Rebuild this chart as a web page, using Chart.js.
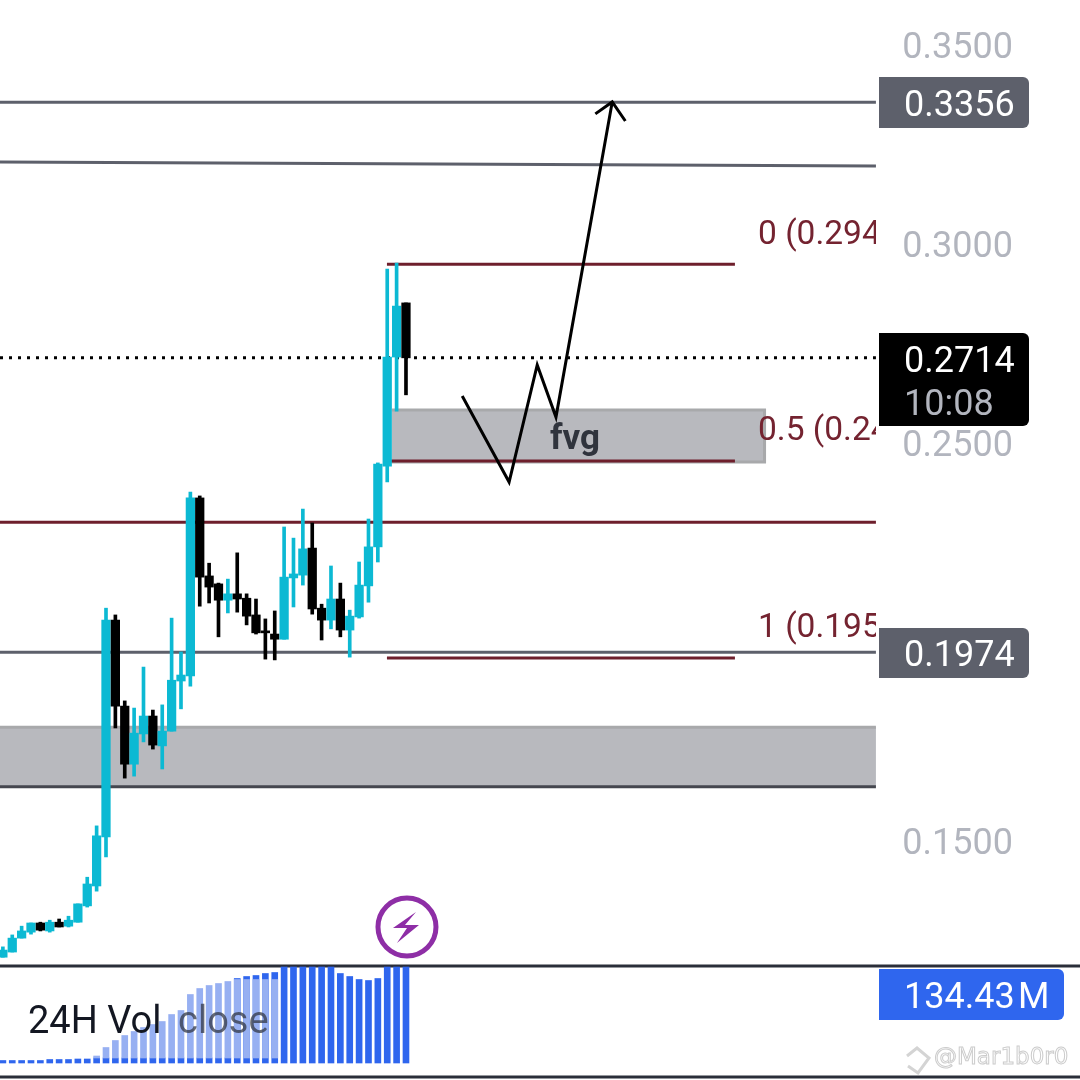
<!DOCTYPE html>
<html>
<head>
<meta charset="utf-8">
<title>24H Vol chart</title>
<script src="https://cdn.jsdelivr.net/npm/chart.js@4"></script>
<style>
  html, body { margin: 0; padding: 0; background: #fff; }
  canvas { display: block; }
</style>
</head>
<body>
<canvas id="chart" width="1080" height="1080"></canvas>
<script>
// candles, oldest first
const opens = [0.1208,0.1221,0.1256,0.1271,0.1294,0.1274,0.1296,0.1286,0.1296,0.1337,0.1387,0.1510,0.2055,0.1839,0.1693,0.1769,0.1814,0.1739,0.1776,0.1902,0.1915,0.2362,0.2166,0.2146,0.2105,0.2121,0.2110,0.2068,0.2028,0.2020,0.2007,0.2161,0.2168,0.2236,0.2085,0.2055,0.2108,0.2030,0.2063,0.2141,0.2239,0.2442,0.2716,0.2852];
const highs = [0.1234,0.1264,0.1286,0.1294,0.1296,0.1301,0.1304,0.1311,0.1342,0.1409,0.1538,0.2085,0.2068,0.1852,0.1834,0.1937,0.1829,0.1842,0.2060,0.1975,0.2377,0.2367,0.2198,0.2148,0.2158,0.2224,0.2121,0.2108,0.2058,0.2078,0.2289,0.2261,0.2334,0.2299,0.2095,0.2191,0.2148,0.2080,0.2201,0.2309,0.2450,0.2937,0.2952,0.2852];
const lows = [0.1208,0.1221,0.1256,0.1266,0.1274,0.1271,0.1284,0.1284,0.1296,0.1334,0.1374,0.1460,0.1784,0.1658,0.1663,0.1749,0.1731,0.1681,0.1776,0.1832,0.1889,0.2090,0.2098,0.2013,0.2073,0.2075,0.2043,0.2020,0.1957,0.1955,0.2007,0.2088,0.2143,0.2070,0.2005,0.2033,0.2013,0.1962,0.2060,0.2100,0.2201,0.2402,0.2580,0.2621];
const closes = [0.1226,0.1256,0.1274,0.1294,0.1276,0.1296,0.1284,0.1301,0.1342,0.1392,0.1513,0.2055,0.1839,0.1693,0.1771,0.1814,0.1741,0.1776,0.1904,0.1917,0.2362,0.2163,0.2138,0.2105,0.2121,0.2108,0.2065,0.2023,0.2023,0.2007,0.2163,0.2171,0.2234,0.2083,0.2055,0.2108,0.2030,0.2065,0.2143,0.2239,0.2447,0.2716,0.2844,0.2714];

// volume in millions, the tall ones run off the top of the pane
const volumes = [5,5,5,5,5,7,7,7,8,8,10,10,10,10,10,10,10,10,10,10,10,10,10,10,10,169,173,175,179,181,192,192,192,192,192,192,179,173,167,165,169,192,192,192];
const volumesFaded = [null,null,null,null,null,null,null,null,null,null,14,31,45,55,63,71,77,83,97,105,137,149,155,159,163,167,167,167,167,167,null,null,null,null,null,null,null,null,null,null,null,null,null,null];
const volFloor = 10;

const priceTicks = [0.35, 0.30, 0.25, 0.15];
const lastPrice = 0.2714;
const resistance = 0.3356;
const support = 0.1974;
const midLine = 0.2301;
const slantLine = [0.3206, 0.3196];
const fibLevels = [['0 (0.2948)', 0.2949], ['0.5 (0.2454)', 0.2455], ['1 (0.1959)', 0.1960]];
const lowerZone = [0.1786, 0.1636];
const fvgZone = [0.2583, 0.2452];

// hand drawn path, x in candle index
const pathX = [49.0, 54.0, 57.0, 59.0, 65.0];
const pathY = [0.2618, 0.2402, 0.2696, 0.2565, 0.3357];
const headX = [63.2, 65.0, 66.4];
const headY = [0.3327, 0.3357, 0.3309];

const CYAN = '#0cb9d3', BLACK = '#000000', GREY = '#5d606b', MAROON = '#6e1f2c', ZONE = '#b8b9be', ZONE_EDGE = '#a8a9ab';
const FONT = 'Roboto, sans-serif';

// x axis: one unit per candle, spans the whole canvas
const xMin = -0.307, xMax = 114.9, xEnd = 93.13;
const fibStart = 40.97, fibEnd = 78.09, fvgStart = 41.5, fvgEnd = 81.25;

const idx = opens.map((_, i) => i);

function line(xs, ys, color, width, extra) {
    return Object.assign({
        type: 'line',
        data: xs.map((x, i) => ({ x: x, y: ys[i] })),
        borderColor: color,
        borderWidth: width,
        pointRadius: 0,
        tension: 0,
        fill: false,
        yAxisID: 'y'
    }, extra || {});
}

function bars(data, color, thickness, axis) {
    return {
        type: 'bar',
        data: data,
        backgroundColor: color,
        borderWidth: 0,
        barThickness: thickness,
        grouped: false,
        yAxisID: axis
    };
}

const candleColors = idx.map(i => closes[i] >= opens[i] ? CYAN : BLACK);

// first dataset ends up on top
const datasets = [
    line(pathX, pathY, BLACK, 3, { borderJoinStyle: 'miter' }),
    line(headX, headY, BLACK, 3, { borderJoinStyle: 'miter' }),
    bars(idx.map(i => ({ x: i, y: [opens[i], closes[i]] })), candleColors, 8.6, 'y'),
    bars(idx.map(i => ({ x: i, y: [lows[i], highs[i]] })), candleColors, 3, 'y'),
    bars(idx.filter(i => volumesFaded[i] !== null).map(i => ({ x: i, y: [volFloor, volumesFaded[i]] })), '#97b0f2', 6, 'yVol'),
    bars(idx.map(i => ({ x: i, y: [0, volumes[i]] })), '#2f66ee', 6, 'yVol'),
    line([fibStart, fibEnd], [fibLevels[0][1], fibLevels[0][1]], MAROON, 3),
    line([fibStart, fibEnd], [fibLevels[1][1], fibLevels[1][1]], MAROON, 3),
    line([fibStart, fibEnd], [fibLevels[2][1], fibLevels[2][1]], MAROON, 3),
    line([xMin, xEnd], [lastPrice, lastPrice], BLACK, 3, { borderDash: [3, 6] }),
    line([xMin, xEnd], [resistance, resistance], GREY, 3),
    line([xMin, xEnd], slantLine, GREY, 3),
    line([xMin, xEnd], [support, support], GREY, 3),
    line([xMin, xEnd], [midLine, midLine], MAROON, 3),
    // fvg box: edge, then fill
    line([fvgStart, fvgEnd, fvgEnd, fvgStart], [fvgZone[0], fvgZone[0], fvgZone[1], fvgZone[1]], ZONE_EDGE, 3),
    line([fvgStart, fvgEnd], [fvgZone[0], fvgZone[0]], 'transparent', 0, { fill: { value: fvgZone[1] }, backgroundColor: ZONE }),
    // lower box
    line([xMin, xEnd], [lowerZone[1], lowerZone[1]], '#45474f', 3),
    line([xMin, xEnd], [lowerZone[0], lowerZone[0]], ZONE_EDGE, 3),
    line([xMin, xEnd], [lowerZone[0], lowerZone[0]], 'transparent', 0, { fill: { value: lowerZone[1] }, backgroundColor: ZONE }),
    // pane separators
    line([xMin, xMax], [194, 194], '#2a2e39', 3, { yAxisID: 'yVol' }),
    line([xMin, xMax], [-28, -28], '#2a2e39', 3, { yAxisID: 'yVol' })
];

function tag(ctx, left, top, right, bottom, color) {
    ctx.fillStyle = color;
    ctx.beginPath();
    ctx.roundRect(left, top, right - left, bottom - top, [0, 6, 6, 0]);
    ctx.fill();
}

// labels and the price tags on the right
const overlay = {
    id: 'overlay',
    afterDraw(chart) {
        const ctx = chart.ctx;
        const x = chart.scales.x, y = chart.scales.y;
        ctx.save();
        ctx.textBaseline = 'middle';
        ctx.textAlign = 'left';

        // fib labels get cut by the end of the plot
        ctx.save();
        ctx.beginPath();
        ctx.rect(0, 0, x.getPixelForValue(xEnd), 1080);
        ctx.clip();
        ctx.fillStyle = '#742330';
        ctx.font = '33.5px ' + FONT;
        ctx.fillText(fibLevels[0][0], 758, y.getPixelForValue(fibLevels[0][1]) - 29);
        ctx.fillText(fibLevels[1][0], 758, y.getPixelForValue(fibLevels[1][1]) - 29);
        ctx.fillText(fibLevels[2][0], 758, y.getPixelForValue(fibLevels[2][1]) - 29);
        ctx.restore();

        ctx.fillStyle = '#30343d';
        ctx.font = 'bold 35px ' + FONT;
        ctx.fillText('fvg', 550, 440);

        // price tags
        ctx.font = '36px ' + FONT;
        tag(ctx, 879, 77, 1029, 128, GREY);
        ctx.fillStyle = '#fff';
        ctx.fillText(resistance.toFixed(4), 904, y.getPixelForValue(resistance) + 5);
        tag(ctx, 879, 628, 1029, 678, GREY);
        ctx.fillStyle = '#fff';
        ctx.fillText(support.toFixed(4), 904, y.getPixelForValue(support) + 5);
        tag(ctx, 879, 333, 1029, 426, BLACK);
        ctx.fillStyle = '#fff';
        ctx.fillText(lastPrice.toFixed(4), 904, 363);
        ctx.fillStyle = '#b2b5be';
        ctx.fillText('10:08', 904, 406);

        tag(ctx, 879, 969, 1064, 1020, '#2f66ee');
        ctx.fillStyle = '#fff';
        ctx.fillText('134.43', 904, 999);
        ctx.fillText('M', 1018, 999);

        // volume title
        ctx.font = '38px ' + FONT;
        ctx.fillStyle = '#131722';
        ctx.fillText('24H Vol', 28, 1023);
        ctx.fillStyle = 'rgba(50,55,70,0.75)';
        ctx.fillText('close', 178, 1023);

        // event marker above the last candle
        const mx = x.getPixelForValue(opens.length - 1);
        ctx.strokeStyle = '#8e2ea6';
        ctx.lineWidth = 5;
        ctx.beginPath();
        ctx.arc(mx + 1, 927, 29, 0, Math.PI * 2);
        ctx.stroke();
        ctx.fillStyle = '#8e2ea6';
        ctx.beginPath();
        ctx.moveTo(mx + 10, 912);
        ctx.lineTo(mx - 13, 928);
        ctx.lineTo(mx + 1, 928);
        ctx.lineTo(mx - 9, 943);
        ctx.lineTo(mx + 13, 925);
        ctx.lineTo(mx - 1, 925);
        ctx.closePath();
        ctx.fill();

        // watermark
        ctx.font = '23px "DejaVu Sans", sans-serif';
        ctx.lineWidth = 1;
        ctx.strokeStyle = '#cccccc';
        ctx.strokeText('@Mar1b0r0', 934, 1058);
        ctx.lineWidth = 3;
        ctx.strokeStyle = '#d4d4d4';
        ctx.beginPath();
        ctx.moveTo(907, 1056);
        ctx.lineTo(917, 1048);
        ctx.lineTo(929, 1058);
        ctx.lineTo(918, 1073);
        ctx.lineTo(908, 1066);
        ctx.stroke();
        ctx.restore();
    }
};

new Chart(document.getElementById('chart').getContext('2d'), {
    data: { datasets: datasets },
    plugins: [overlay],
    options: {
        responsive: false,
        animation: false,
        devicePixelRatio: 1,
        layout: { padding: 0 },
        plugins: { legend: { display: false }, tooltip: { enabled: false } },
        scales: {
            x: { type: 'linear', min: xMin, max: xMax, offset: false, display: false },
            y: {
                position: 'right',
                min: 0.08995,
                max: 0.361307,
                afterBuildTicks: scale => { scale.ticks = priceTicks.map(v => ({ value: v })); },
                // labels sit inside the canvas, the axis must not take any room
                afterFit: scale => {
                    scale.width = 0;
                    scale.paddingTop = scale.paddingBottom = scale.paddingLeft = scale.paddingRight = 0;
                },
                grid: { display: false },
                border: { display: false },
                ticks: {
                    mirror: true,
                    padding: -67,
                    autoSkip: false,
                    color: '#b2b5be',
                    font: { family: 'Roboto', size: 36, lineHeight: 8 / 36 },
                    // empty first line pushes the number down a few px onto the level
                    callback: v => ['', v.toFixed(4)]
                }
            },
            yVol: { position: 'left', min: -34, max: 2126, display: false }
        }
    }
});
</script>
</body>
</html>
